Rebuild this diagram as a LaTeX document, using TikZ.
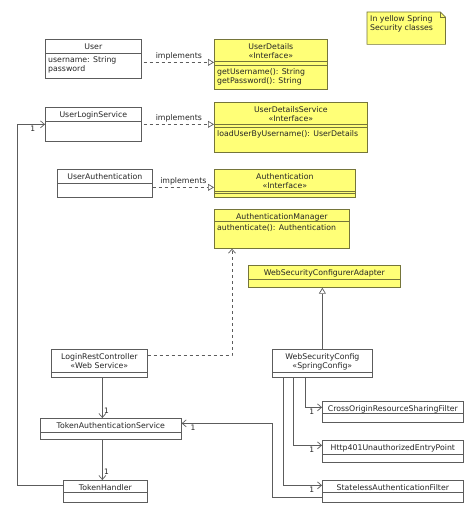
\documentclass[tikz,border=0pt]{standalone}
\usepackage{fontspec}
\setmainfont{DejaVu Sans}
\usepackage{xcolor}
\usepackage{tikz}
\usetikzlibrary{arrows.meta, positioning, calc}
\definecolor{springyellow}{HTML}{FFFF77}
\definecolor{springline}{HTML}{75753A}
\definecolor{classline}{HTML}{5C5C5C}
\newcommand{\sepline}[3][classline]{%
  \draw[draw=#1, line width=0.7pt] ([yshift=-#3]#2.north west) -- ([yshift=-#3]#2.north east);}

\begin{document}
\begin{tikzpicture}[
    x=1pt, y=-1pt,
    every node/.style={font=\fontsize{7.8}{9}\selectfont, text=black!85},
    cls/.style={rectangle, draw=classline, fill=white, line width=0.7pt,
                inner sep=0pt, anchor=north west},
    spring/.style={cls, draw=springline, fill=springyellow},
    ctitle/.style={inner sep=0pt, anchor=north, align=center},
    cbody/.style={inner sep=0pt, anchor=north west, align=left},
    assoc/.style={-{Straight Barb[length=4pt, width=7pt]}, draw=classline,
                  line width=0.7pt},
    impl/.style={-{Triangle[open, length=6pt, width=7pt]}, dashed,
                 draw=classline, line width=0.7pt},
    dep/.style={-{Straight Barb[length=4pt, width=7pt]}, dashed,
                draw=classline, line width=0.7pt},
    inherit/.style={-{Triangle[open, length=6pt, width=7pt]},
                    draw=classline, line width=0.7pt},
    mult/.style={inner sep=1.5pt, font=\fontsize{7.5}{8}\selectfont}
]
\useasboundingbox[fill=white] (0,0) rectangle (474,519);

% Note
\node[inner sep=0pt, minimum width=78pt, minimum height=32pt, anchor=north west]
    (note) at (367,12) {};
\draw[draw=springline, fill=springyellow, line width=0.7pt]
    (note.north west) -- ([xshift=-5pt]note.north east)
    -- ([yshift=-5pt]note.north east) -- (note.south east)
    -- (note.south west) -- cycle;
\draw[draw=springline, line width=0.7pt]
    ([xshift=-5pt]note.north east) |- ([yshift=-5pt]note.north east);
\node[cbody] at ([shift={(3pt,-3pt)}]note.north west)
    {In yellow Spring\\Security classes};

% User classes
\node[cls, minimum width=96pt, minimum height=39pt] (user) at (45,39) {};
\node[ctitle, below=4.5pt of user.north] {User};
\sepline{user}{14pt}
\node[cbody] at ([shift={(3pt,-17pt)}]user.north west)
    {username: String\\password};

\node[cls, minimum width=96pt, minimum height=34pt] (uls) at (45,107) {};
\node[ctitle, below=4.5pt of uls.north] {UserLoginService};
\sepline{uls}{14pt}

\node[cls, minimum width=95pt, minimum height=28pt] (ua) at (57,169) {};
\node[ctitle, below=4.5pt of ua.north] {UserAuthentication};
\sepline{ua}{14pt}

% Spring interfaces
\node[spring, minimum width=113pt, minimum height=50pt] (ud) at (214,39) {};
\node[ctitle, below=4.5pt of ud.north] {UserDetails\\«Interface»};
\sepline[springline]{ud}{22pt}
\sepline[springline]{ud}{26pt}
\node[cbody] at ([shift={(3pt,-29pt)}]ud.north west)
    {getUsername(): String\\getPassword(): String};

\node[spring, minimum width=153pt, minimum height=50pt] (uds) at (214,102) {};
\node[ctitle, below=4.5pt of uds.north] {UserDetailsService\\«Interface»};
\sepline[springline]{uds}{22pt}
\sepline[springline]{uds}{25pt}
\node[cbody] at ([shift={(3pt,-28pt)}]uds.north west)
    {loadUserByUsername(): UserDetails};

\node[spring, minimum width=141pt, minimum height=28pt] (auth) at (214,169) {};
\node[ctitle, below=4.5pt of auth.north] {Authentication\\«Interface»};
\sepline[springline]{auth}{22pt}
\sepline[springline]{auth}{24pt}

\node[spring, minimum width=135pt, minimum height=39pt] (am) at (214,209) {};
\node[ctitle, below=4pt of am.north] {AuthenticationManager};
\sepline[springline]{am}{12pt}
\node[cbody] at ([shift={(3pt,-15.5pt)}]am.north west)
    {authenticate(): Authentication};

\node[spring, minimum width=152pt, minimum height=22pt] (wsca) at (248,265) {};
\node[ctitle, below=4.5pt of wsca.north] {WebSecurityConfigurerAdapter};
\sepline[springline]{wsca}{14pt}

% Web layer
\node[cls, minimum width=96pt, minimum height=28pt] (lrc) at (51,349) {};
\node[ctitle, below=4.5pt of lrc.north] {LoginRestController\\«Web Service»};
\sepline{lrc}{23pt}

\node[cls, minimum width=100pt, minimum height=28pt] (wsc) at (272,349) {};
\node[ctitle, below=4.5pt of wsc.north] {WebSecurityConfig\\«SpringConfig»};
\sepline{wsc}{23pt}

\node[cls, minimum width=141pt, minimum height=21pt] (cors) at (322,401) {};
\node[ctitle, below=4pt of cors.north] {CrossOriginResourceSharingFilter};
\sepline{cors}{12pt}

\node[cls, minimum width=141pt, minimum height=21pt] (tas) at (40,418) {};
\node[ctitle, below=4pt of tas.north] {TokenAuthenticationService};
\sepline{tas}{14pt}

\node[cls, minimum width=141pt, minimum height=22pt] (http) at (322,440) {};
\node[ctitle, below=4.5pt of http.north] {Http401UnauthorizedEntryPoint};
\sepline{http}{14pt}

\node[cls, minimum width=141pt, minimum height=22pt] (sf) at (322,480) {};
\node[ctitle, below=4pt of sf.north] {StatelessAuthenticationFilter};
\sepline{sf}{12pt}

\node[cls, minimum width=84pt, minimum height=22pt] (th) at (63,480) {};
\node[ctitle, below=4pt of th.north] {TokenHandler};
\sepline{th}{12pt}

% Realisations
\coordinate (i1) at ([yshift=-3.5pt]user.east);
\draw[impl] ([xshift=2pt]i1) -- (i1 -| ud.west)
    node[midway, above, inner sep=1.5pt] {implements};
\draw[impl] ([xshift=2pt]uls.east) -- (uls.east -| uds.west)
    node[midway, above, inner sep=1.5pt] {implements};
\coordinate (i3) at ([yshift=-4pt]ua.east);
\draw[impl] (i3) -- (i3 -| auth.west)
    node[midway, above, inner sep=1.5pt] {implements};

% Dependencies
\draw[dep] ([yshift=8pt]lrc.east) -| ([xshift=18pt]am.south west);
\draw[inherit] (wsc.north) -- (wsc.north |- wsca.south);

% Associations
\draw[assoc] ([xshift=3pt]lrc.south) -- ([xshift=3pt]lrc.south |- tas.north)
    node[mult, at end, anchor=south west, yshift=3pt] {1};
\draw[assoc] ([xshift=-8.5pt]tas.south) -- ([xshift=-8.5pt]tas.south |- th.north)
    node[mult, at end, anchor=south west, yshift=4pt] {1};
\draw[assoc] ([yshift=6pt]th.west) -- ++(-46pt,0) |- (uls.west)
    node[mult, at end, anchor=north east, xshift=-8pt] {1};
\draw[assoc] ([xshift=-17pt]wsc.south) |- ([yshift=4.5pt]cors.west)
    node[mult, at end, anchor=north east, xshift=-6pt] {1};
\draw[assoc] ([xshift=-29pt]wsc.south) |- ([yshift=6pt]http.west)
    node[mult, at end, anchor=north east, xshift=-6pt] {1};
\draw[assoc] ([xshift=-39pt]wsc.south) |- ([yshift=6pt]sf.west)
    node[mult, at end, anchor=north east, xshift=-6pt] {1};
\draw[assoc] ([yshift=-6pt]sf.west) -- ++(-50pt,0) |- ([yshift=5.5pt]tas.east)
    node[mult, at end, anchor=north west, xshift=7pt] {1};

\end{tikzpicture}
\end{document}
